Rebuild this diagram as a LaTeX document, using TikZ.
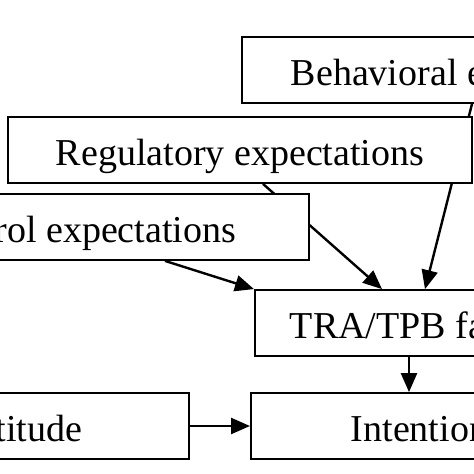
\documentclass[tikz,border=0pt]{standalone}
\usepackage{fontspec}
\setmainfont{Liberation Serif}
\usetikzlibrary{arrows.meta,backgrounds}

\begin{document}
\begin{tikzpicture}[x=1pt,y=-1pt,->,>={Triangle[length=19pt,width=16pt]},
                    node font=\fontsize{38}{40}\selectfont]
      \tikzstyle{box}=[draw,fill=white,line width=1.8pt,minimum height=66pt,
                       inner ysep=0pt,text height=31pt,text depth=0pt]
      \tikzstyle{link}=[line width=2.4pt]

      \useasboundingbox (0,0) rectangle (474,474);

      \node[box,anchor=west,inner xsep=49pt]  (beh)  at (241,70)  {Behavioral expectations};
      \node[box,anchor=west,inner xsep=48pt]  (reg)  at (7,150)   {Regulatory expectations};
      \node[box,anchor=east,inner xsep=73pt]  (ctrl) at (310,227) {Control expectations};
      \node[box,anchor=west,inner xsep=35pt]  (tra)  at (254,323) {TRA/TPB factors};
      \node[box,anchor=east,inner xsep=107pt] (att)  at (190,426) {Attitude};
      \node[box,anchor=west,inner xsep=100pt] (int)  at (250,426) {Intention};

      \begin{pgfonlayer}{background}
        \clip (0,0) rectangle (474,474);
        \draw[link] ([xshift=-145pt]ctrl.south east) -- (tra.north west);
        \draw[link] ([xshift=256pt]reg.south west)   -- ([xshift=128pt]tra.north west);
        \draw[link] ([xshift=231pt]beh.south west)   -- ([xshift=171pt]tra.north west);
        \draw[link] ([xshift=155pt]tra.south west)   -- ([xshift=155pt]tra.south west |- int.north);
        \draw[link] (att) -- (int);
      \end{pgfonlayer}
\end{tikzpicture}
\end{document}
